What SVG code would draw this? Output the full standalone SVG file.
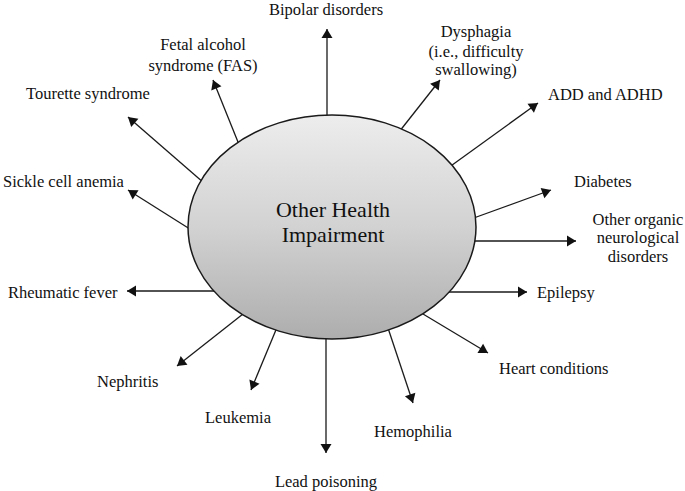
<svg xmlns="http://www.w3.org/2000/svg" width="685" height="491" viewBox="0 0 685 491">
<style>
text{font-family:'Liberation Serif',Tinos,'Times New Roman','Nimbus Roman','DejaVu Serif',serif;font-size:16.5px;fill:#111}
.c{text-anchor:middle}
.ln{stroke:#1a1a1a;stroke-width:1.3;fill:none;marker-end:url(#ah)}
.title{font-size:22px;text-anchor:middle}
</style>
<defs>
<marker id="ah" markerUnits="userSpaceOnUse" markerWidth="12" markerHeight="12" viewBox="0 -6 10 12" refX="9" refY="0" orient="auto">
<path d="M0,-5.5 L9,0 L0,5.5 z" fill="#111"/>
</marker>
<linearGradient id="g" x1="0" y1="0" x2="0" y2="1">
<stop offset="0" stop-color="#ededed"/>
<stop offset="0.5" stop-color="#d2d2d2"/>
<stop offset="1" stop-color="#adadad"/>
</linearGradient>
</defs>
<rect width="685" height="491" fill="#fff"/>
<g id="connectors">
<line class="ln" x1="327" y1="122" x2="327" y2="29"/>
<line class="ln" x1="240" y1="147" x2="213" y2="80"/>
<line class="ln" x1="204" y1="183" x2="128" y2="117"/>
<line class="ln" x1="193" y1="231" x2="128" y2="190"/>
<line class="ln" x1="399" y1="132" x2="440" y2="80"/>
<line class="ln" x1="448" y1="168" x2="538" y2="103"/>
<line class="ln" x1="471" y1="219" x2="551" y2="190"/>
<line class="ln" x1="471" y1="241" x2="576" y2="241"/>
<line class="ln" x1="444" y1="292" x2="527" y2="292"/>
<line class="ln" x1="423" y1="314" x2="488" y2="353"/>
<line class="ln" x1="387" y1="325" x2="413" y2="403"/>
<line class="ln" x1="326" y1="334" x2="326" y2="453"/>
<line class="ln" x1="278" y1="325" x2="251" y2="390"/>
<line class="ln" x1="243" y1="314" x2="177" y2="366"/>
<line class="ln" x1="220" y1="291" x2="127" y2="291"/>
</g>
<g id="center">
<ellipse cx="332" cy="227" rx="144" ry="112" fill="url(#g)" stroke="#1a1a1a" stroke-width="1.5"/>
<text class="title" x="333" y="217">Other Health</text>
<text class="title" x="333" y="242">Impairment</text>
</g>
<g id="bipolar"><text x="269" y="15">Bipolar disorders</text></g>
<g id="fas"><text class="c" x="203" y="50">Fetal alcohol</text><text class="c" x="203" y="71">syndrome (FAS)</text></g>
<g id="tourette"><text x="26" y="99">Tourette syndrome</text></g>
<g id="sickle"><text x="3" y="187">Sickle cell anemia</text></g>
<g id="dysphagia"><text class="c" x="476" y="37">Dysphagia</text><text class="c" x="476" y="57">(i.e., difficulty</text><text class="c" x="476" y="75">swallowing)</text></g>
<g id="add"><text x="548" y="100">ADD and ADHD</text></g>
<g id="diabetes"><text x="574" y="187">Diabetes</text></g>
<g id="organic"><text class="c" x="638" y="225">Other organic</text><text class="c" x="638" y="243">neurological</text><text class="c" x="638" y="262">disorders</text></g>
<g id="epilepsy"><text x="537" y="298">Epilepsy</text></g>
<g id="heart"><text x="499" y="374">Heart conditions</text></g>
<g id="hemophilia"><text x="374" y="437">Hemophilia</text></g>
<g id="lead"><text class="c" x="326" y="487">Lead poisoning</text></g>
<g id="leukemia"><text x="205" y="423">Leukemia</text></g>
<g id="nephritis"><text x="97" y="387">Nephritis</text></g>
<g id="rheumatic"><text x="8" y="298">Rheumatic fever</text></g>
</svg>
